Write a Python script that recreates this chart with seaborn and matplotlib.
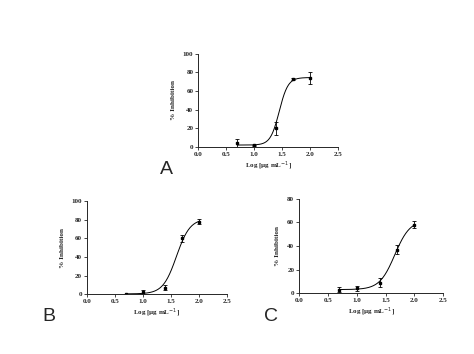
import numpy as np
import seaborn as sns
import matplotlib.pyplot as plt

# measured doses (log ug/mL) and mean % inhibition +/- error
log_dose = [0.699, 1.0, 1.398, 1.699, 2.0]

inhib_a = [4.0, 2.0, 20.0, 73.0, 74.0]
err_a = [4.0, 0.5, 7.0, 1.0, 6.0]

inhib_b = [0.0, 2.0, 7.0, 60.0, 78.0]
err_b = [0.5, 2.0, 3.0, 4.0, 3.0]

inhib_c = [3.0, 4.0, 9.0, 37.0, 58.0]
err_c = [2.0, 2.0, 4.0, 4.0, 3.0]

# 4-parameter logistic fit: bottom, top, logEC50, hill
fit_a = [2.0, 74.5, 1.45, 5.5]
fit_b = [0.3, 81.0, 1.60, 3.6]
fit_c = [3.0, 62.0, 1.66, 3.3]

xticks = [0.0, 0.5, 1.0, 1.5, 2.0, 2.5]

sns.set_style("ticks")
plt.rcParams['font.family'] = ['Liberation Serif', 'DejaVu Serif']

fig = plt.figure(figsize=(4.74, 3.54), dpi=100)

panels = [
	("A", [0.418, 0.585, 0.295, 0.263], inhib_a, err_a, fit_a, 100, (0.352, 0.52)),
	("B", [0.1835, 0.169, 0.295, 0.263], inhib_b, err_b, fit_b, 100, (0.103, 0.105)),
	("C", [0.631, 0.172, 0.304, 0.266], inhib_c, err_c, fit_c, 80, (0.572, 0.107)),
]

for letter, rect, y, e, fit, ymax, lpos in panels:
	ax = fig.add_axes(rect)
	bottom, top, ec50, hill = fit
	xs = np.linspace(log_dose[0], log_dose[-1], 200)
	ys = bottom + (top - bottom) / (1 + 10 ** ((ec50 - xs) * hill))
	sns.lineplot(x=xs, y=ys, ax=ax, color='black', linewidth=0.7)
	ax.errorbar(log_dose, y, yerr=e, fmt='s', color='black', markersize=1.8,
				elinewidth=0.6, capsize=1.5, capthick=0.6)
	ax.set_xlim(0, 2.5)
	ax.set_ylim(0, ymax)
	ax.set_xticks(xticks)
	ax.set_xticklabels([f"{t:.1f}" for t in xticks])
	ax.set_yticks(np.arange(0, ymax + 1, 20))
	ax.tick_params(labelsize=5, width=0.6, length=2, pad=1.5)
	for lab in ax.get_xticklabels() + ax.get_yticklabels():
		lab.set_fontweight('bold')
	for s in ['left', 'bottom']:
		ax.spines[s].set_linewidth(0.7)
	sns.despine(ax=ax)
	ax.set_xlabel('Log [\u00b5g mL$^{-1}$]', fontsize=5, fontweight='bold', labelpad=2)
	ax.set_ylabel('% Inhibition', fontsize=5.2, fontweight='bold', labelpad=5)
	fig.text(lpos[0], lpos[1], letter, fontsize=14, family='Liberation Sans',
			 ha='center', va='center')

fig.savefig('out.png', dpi=100)
